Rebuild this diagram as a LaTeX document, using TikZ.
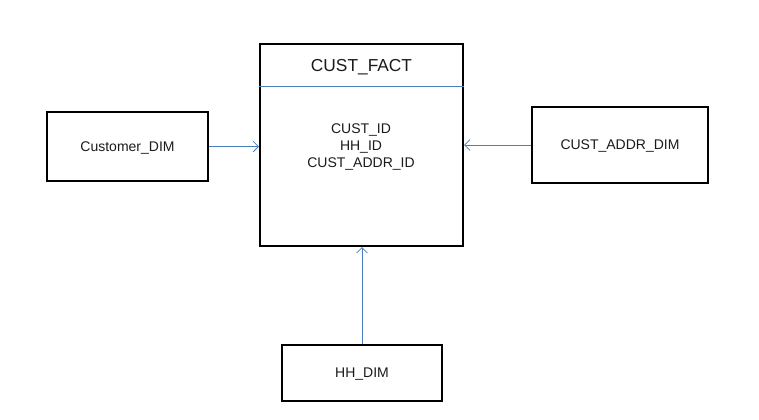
\documentclass[tikz,border=0pt]{standalone}
\usepackage{fontspec}
\setmainfont{Liberation Sans}
\usepackage{tikz}
\usetikzlibrary{arrows.meta}
\definecolor{linkblue}{HTML}{4A7EBB}
\definecolor{boxtext}{HTML}{1A1A1A}

\tikzset{
  dimbox/.style={draw=black,line width=1.5pt,inner sep=0pt,text depth=0pt,text=boxtext,font=\fontsize{10.5}{12}\selectfont},
  link/.style={draw=linkblue,line width=0.65pt,-{Straight Barb[length=4pt,width=8pt]}}
}

\begin{document}
\begin{tikzpicture}[x=0.75pt,y=-0.75pt]
  \useasboundingbox (0,0) rectangle (759,419);
  % fact table
  \node[dimbox,minimum width=152.25pt,minimum height=151.5pt] (fact) at (361.5,145) {};
  \node[inner sep=0pt,text=boxtext,font=\fontsize{13}{15}\selectfont] (title) at (361.5,67) {CUST\_FACT};
  \coordinate (split) at (361.5,86);
  \draw[linkblue,line width=0.65pt] (fact.west |- split) -- (fact.east |- split);
  \node[align=center,inner sep=0pt,text=boxtext,font=\fontsize{10.5}{12.4}\selectfont] (keys) at (361,147) {CUST\_ID\\HH\_ID\\CUST\_ADDR\_ID};
  % dimensions
  \node[dimbox,minimum width=120.75pt,minimum height=51.75pt] (cdim) at (127.5,146.5) {Customer\_DIM};
  \node[dimbox,minimum width=132pt,minimum height=57pt] (adim) at (620,145) {CUST\_ADDR\_DIM};
  \node[dimbox,minimum width=120pt,minimum height=42pt] (hdim) at (362,373) {HH\_DIM};
  % links
  \draw[link] (cdim.east) -- (cdim.east -| fact.west);
  \draw[link] (adim.west) -- (adim.west -| fact.east);
  \draw[link] (hdim.north) -- (hdim.north |- fact.south);
\end{tikzpicture}
\end{document}
